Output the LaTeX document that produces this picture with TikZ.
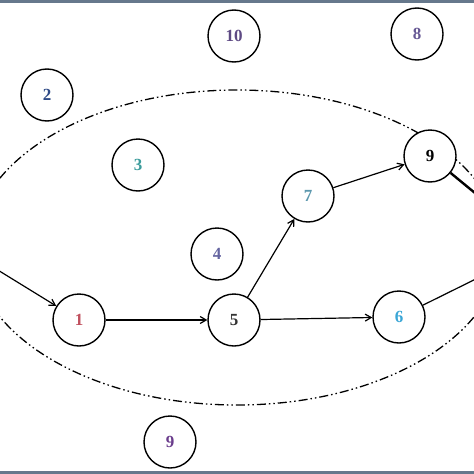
\documentclass[tikz,border=0pt]{standalone}
\usepackage{fontspec}
\setmainfont{Liberation Serif}
\usetikzlibrary{arrows.meta}
\definecolor{cRed}{HTML}{C0505E}
\definecolor{cNavy}{HTML}{2E4A86}
\definecolor{cTeal}{HTML}{3C9C9C}
\definecolor{cSlate}{HTML}{6464A0}
\definecolor{cCyan}{HTML}{3AA6D6}
\definecolor{cTeal2}{HTML}{5C98AE}
\definecolor{cPurp}{HTML}{665894}
\definecolor{cPurp2}{HTML}{5E4A84}
\definecolor{cPurp3}{HTML}{6A3C8C}
\definecolor{cBar}{HTML}{66788C}
\tikzset{
  vtx/.style={circle, draw=black, line width=1.4pt, fill=white, minimum size=52pt, inner sep=0pt, font=\fontsize{17}{17}\selectfont\bfseries},
  link/.style={line width=1.2pt, -{Straight Barb[length=6pt,width=7pt]}},
  bound/.style={line width=1.3pt, dash pattern=on 9pt off 3pt on 1.5pt off 3pt on 1.5pt off 3pt}
}
\begin{document}
\begin{tikzpicture}[x=1pt,y=-1pt]
\useasboundingbox (0,0) rectangle (474,474);
\fill[white] (0,0) rectangle (474,474);
\fill[cBar] (0,0) rectangle (474,2.5);
\fill[cBar] (0,471) rectangle (474,474);
\draw[bound] (237,247.5) ellipse [x radius=264pt, y radius=157.5pt];
\node[vtx, text=cPurp2] (n10) at (234,36) {10};
\node[vtx, text=cPurp] (n8) at (417,34) {8};
\node[vtx, text=cNavy] (n2) at (47,95) {2};
\node[vtx, text=cTeal] (n3) at (138,165) {3};
\node[vtx, text=black] (n9) at (430,156) {9};
\node[vtx, text=cTeal2] (n7) at (308,196) {7};
\node[vtx, text=cSlate] (n4) at (217,254) {4};
\node[vtx, text=black!80] (n5) at (234,320) {5};
\node[vtx, text=cRed] (n1) at (79,320) {1};
\node[vtx, text=cCyan] (n6) at (399,317) {6};
\node[vtx, text=cPurp3] (n9b) at (170,442) {9};
\coordinate (in1) at (-12,264);
\coordinate (out6) at (492,271);
\coordinate (out9) at (492,207);
\draw[link] (in1) -- (n1);
\draw[link] (n1) -- (n5);
\draw[link] (n5) -- (n7);
\draw[link] (n7) -- (n9);
\draw[link] (n5) -- (n6);
\draw[link] (n6) -- (out6);
\draw[link, line width=2.4pt] (n9) -- (out9);
\end{tikzpicture}
\end{document}
